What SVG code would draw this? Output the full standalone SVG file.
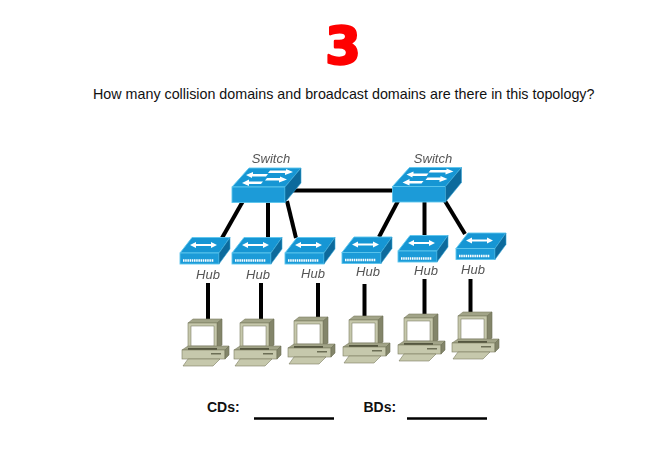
<svg xmlns="http://www.w3.org/2000/svg" xmlns:xlink="http://www.w3.org/1999/xlink" width="670" height="463" viewBox="0 0 670 463">
<style>
text{font-family:"Liberation Sans",Arial,sans-serif}
.q{font-size:14.3px;fill:#111}
.b{font-size:14px;font-weight:bold;fill:#111}
.l{font-size:13px;font-style:italic;fill:#555;text-anchor:middle}
.w{stroke:#000;stroke-width:4;fill:none}
.u{stroke:#000;stroke-width:2.5;fill:none}
.t{fill:#1596d4;stroke:#5cc6ee;stroke-width:.9;stroke-linejoin:round}
.f{fill:#1c9bd8;stroke:#5cc6ee;stroke-width:.9}
.s{fill:#0b6b9c;stroke:#3aa6d6;stroke-width:.6;stroke-linejoin:round}
.a{fill:#fff}
.m1{fill:#c6c8ac;stroke:#7c7e62;stroke-width:.6}
.m2{fill:#a2a488;stroke:#7c7e62;stroke-width:.6;stroke-linejoin:round}
.m3{fill:#83856a;stroke:#6c6e54;stroke-width:.6;stroke-linejoin:round}
.soft{filter:url(#soft)}
</style>
<defs>
<filter id="soft" x="-5%" y="-5%" width="110%" height="110%"><feGaussianBlur stdDeviation="0.35"/></filter>
<g id="sw">
<polygon class="t" points="0,0 53,0 69,-19 17,-19"/>
<rect class="f" x="0" y="0" width="53" height="15.500"/>
<polygon class="s" points="53,0 69,-19 69,-4 53,15.500"/>
<path class="a" d="M14,-12 l7,-3 v2 h15 l-2,2.500 h-14 v1.500z"/>
<path class="a" d="M38,-16.500 h16 v-1.500 l7,3 l-8,3 v-2 h-17z"/>
<path class="a" d="M10,-4 l7,-3.500 v2 h14 l-2,2.500 h-12 v2z"/>
<path class="a" d="M35,-9 h13 v-1.500 l7,3 l-8,3 v-2 h-14z"/>
</g>
<g id="hub">
<polygon class="t" points="0,0 39,0 50,-15.500 12,-15.500"/>
<rect class="f" x="0" y="0" width="39" height="11"/>
<polygon class="s" points="39,0 50,-15.500 50,-4 39,11"/>
<path class="a" d="M10,-8 l6,-3 v2 h15 v-2 l6,3 l-6,3 v-2 h-15 v2z"/>
<line x1="3" y1="7.500" x2="34" y2="7.500" stroke="#fff" stroke-width="2.500" stroke-dasharray="1.500 .7"/>
</g>
<g id="pc">
<polygon class="m2" points="0,0 29,0 34,-4 5,-4"/>
<polygon class="m3" points="29,0 34,-4 34,22 29,26"/>
<rect class="m1" x="0" y="0" width="29" height="26"/>
<rect class="a" x="3" y="3" width="23" height="20" stroke="#6c6e54" stroke-width=".5"/>
<polygon class="m2" points="-6,27 0,23 41,23 37,27"/>
<rect x="0" y="25" width="29" height="2" fill="#55573f"/>
<rect class="m1" x="-6" y="27" width="43" height="9"/>
<polygon class="m3" points="37,27 41,23 41,32 37,36"/>
<rect x="23" y="30" width="10" height="1.500" fill="#6c6e54"/>
<polygon class="m1" points="0,36 32,36 25,43 -5,43"/>
</g>
</defs>

<text id="title" x="343" y="64" text-anchor="middle" font-size="51" font-weight="bold" style="font-family:'DejaVu Sans',sans-serif" fill="#fe0000" stroke="#fe0000" stroke-width="2.500" stroke-linejoin="round">3</text>
<text id="question" class="q" x="93" y="99">How many collision domains and broadcast domains are there in this topology?</text>

<g id="connectors" class="soft">
<line class="w" x1="285" y1="190.500" x2="395" y2="190.500"/>
<line class="w" x1="243" y1="201" x2="222" y2="238"/>
<line class="w" x1="268" y1="201" x2="268" y2="238"/>
<line class="w" x1="287" y1="201" x2="296" y2="238"/>
<line class="w" x1="398" y1="201" x2="379" y2="237"/>
<line class="w" x1="424.500" y1="201" x2="424.500" y2="235"/>
<line class="w" x1="445" y1="201" x2="465" y2="234"/>
<line class="w" x1="208" y1="283" x2="208" y2="319"/>
<line class="w" x1="261" y1="283" x2="261" y2="319"/>
<line class="w" x1="318" y1="283" x2="318" y2="317"/>
<line class="w" x1="364.500" y1="284" x2="364.500" y2="317"/>
<line class="w" x1="424.500" y1="279" x2="424.500" y2="315"/>
<line class="w" x1="470.500" y1="279" x2="470.500" y2="313"/>
</g>

<g id="switch1" class="soft"><use xlink:href="#sw" href="#sw" x="232" y="187"/><text class="l" x="271" y="163">Switch</text></g>
<g id="switch2" class="soft"><use xlink:href="#sw" href="#sw" x="392.500" y="186.500"/><text class="l" x="433" y="163">Switch</text></g>
<g id="hub1" class="soft"><use xlink:href="#hub" href="#hub" x="180" y="253"/><text class="l" x="208" y="279">Hub</text></g>
<g id="hub2" class="soft"><use xlink:href="#hub" href="#hub" x="232" y="253"/><text class="l" x="258" y="279">Hub</text></g>
<g id="hub3" class="soft"><use xlink:href="#hub" href="#hub" x="285" y="253"/><text class="l" x="313" y="278">Hub</text></g>
<g id="hub4" class="soft"><use xlink:href="#hub" href="#hub" x="342" y="252.500"/><text class="l" x="368" y="276">Hub</text></g>
<g id="hub5" class="soft"><use xlink:href="#hub" href="#hub" x="398" y="251"/><text class="l" x="426" y="275">Hub</text></g>
<g id="hub6" class="soft"><use xlink:href="#hub" href="#hub" x="456" y="248.500"/><text class="l" x="473" y="274">Hub</text></g>
<g id="pc1" class="soft"><use xlink:href="#pc" href="#pc" x="188" y="323"/></g>
<g id="pc2" class="soft"><use xlink:href="#pc" href="#pc" x="240" y="323"/></g>
<g id="pc3" class="soft"><use xlink:href="#pc" href="#pc" x="294" y="321"/></g>
<g id="pc4" class="soft"><use xlink:href="#pc" href="#pc" x="349" y="320"/></g>
<g id="pc5" class="soft"><use xlink:href="#pc" href="#pc" x="404" y="318"/></g>
<g id="pc6" class="soft"><use xlink:href="#pc" href="#pc" x="458" y="316"/></g>

<text id="cds" class="b" x="207" y="412">CDs:</text>
<line class="u" x1="254" y1="418.500" x2="334" y2="418.500"/>
<text id="bds" class="b" x="363.500" y="412">BDs:</text>
<line class="u" x1="407" y1="418.500" x2="487" y2="418.500"/>
</svg>
